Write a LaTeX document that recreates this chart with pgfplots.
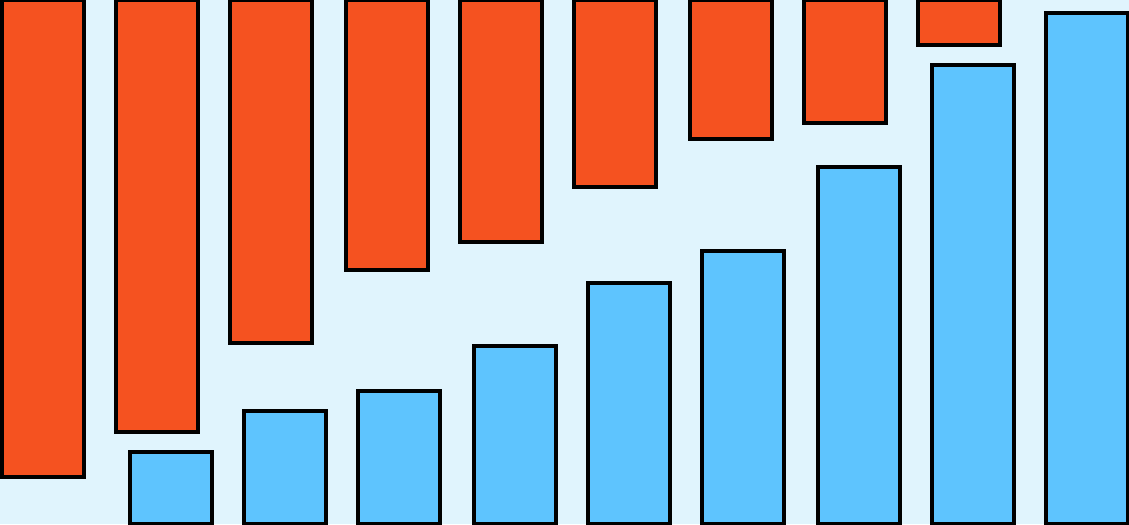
\documentclass[border=0pt]{standalone}
\usepackage{pgfplots}
\pgfplotsset{compat=1.18}
\definecolor{bgblue}{HTML}{E0F4FD}
\definecolor{barorange}{HTML}{F55220}
\definecolor{barblue}{HTML}{5EC4FE}

\pgfplotsset{
  flat/.style={
    width=11.29cm, height=5.24cm, scale only axis,
    at={(0,0)}, anchor=south west,
    hide axis, clip=true,
    xmin=0, xmax=1129, ymin=3, ymax=527,
    ybar, bar width=82, bar shift=0pt,
  },
}

\begin{document}
\begin{tikzpicture}
\fill[bgblue] (0,0) rectangle (11.29cm,5.24cm);
% rising bars
\begin{axis}[flat, name=a]
\addplot[fill=barblue, draw=black, line width=0.04cm] coordinates {
  (170.5,75) (284.5,116) (398.5,136) (514.5,181) (628.5,244)
  (742.5,276) (858.5,360) (972.5,462) (1086.5,514)
};
\end{axis}
% hanging bars
\begin{axis}[flat, y dir=reverse]
\addplot[fill=barorange, draw=black, line width=0.04cm] coordinates {
  (43,480) (157,435) (271,346) (386.5,273) (500.5,245)
  (614.5,190) (730.5,142) (844.5,126) (958.5,48)
};
\end{axis}
\pgfresetboundingbox
\useasboundingbox (0,0) rectangle (11.29cm,5.24cm);
\end{tikzpicture}
\end{document}
